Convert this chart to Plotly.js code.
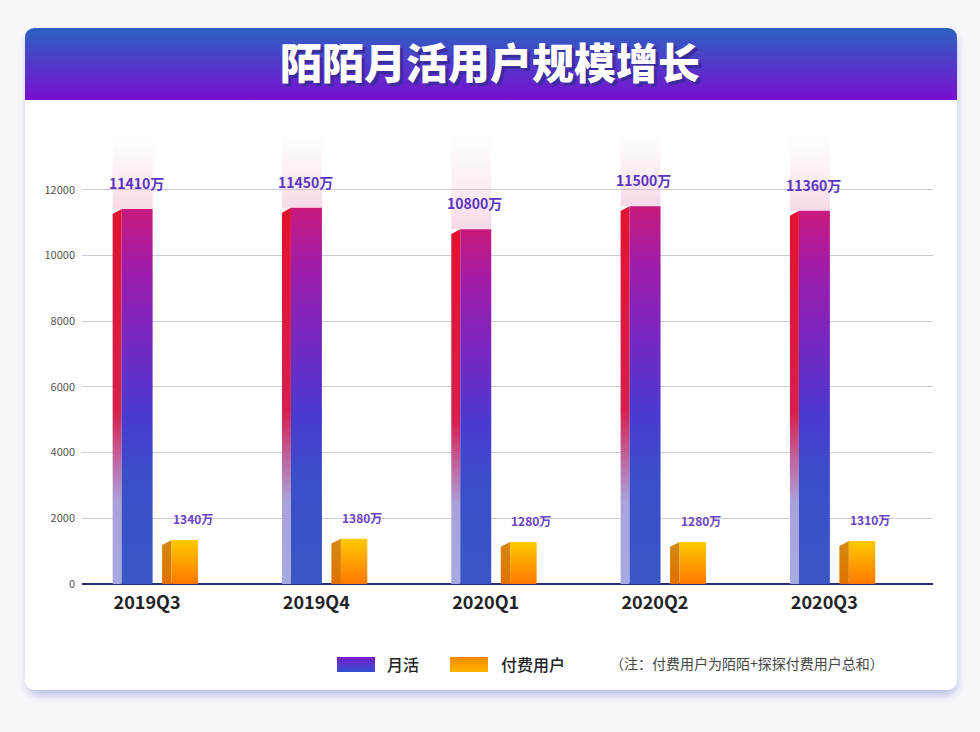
<!DOCTYPE html>
<html>
<head>
<meta charset="utf-8">
<script src="https://cdn.plot.ly/plotly-3.0.1.min.js"></script>
<style>html,body{margin:0;padding:0;background:#f7f8fb;}#chart{width:980px;height:732px;}</style>
</head>
<body>
<div id="chart"></div>
<script>
// ---- data ----
const categories = ['2019Q3', '2019Q4', '2020Q1', '2020Q2', '2020Q3'];
const mau = [11410, 11450, 10800, 11500, 11360];      // 月活 (万)
const paid = [1340, 1380, 1280, 1280, 1310];          // 付费用户 (万)
const yTicks = [0, 2000, 4000, 6000, 8000, 10000, 12000];
const seriesNames = ['月活', '付费用户'];
const unit = '万';
const chartTitle = '陌陌月活用户规模增长';
const noteText = '（注：付费用户为陌陌+探探付费用户总和）';

// ---- geometry / style ----
const W = 980, H = 732;
const M = {l: 82, r: 47, t: 124, b: 148};
const PW = W - M.l - M.r, PH = H - M.t - M.b;
const px2x = px => (px - M.l) / PW;
const py2y = py => (H - M.b - py) / PH;
const FONT = '"Noto Sans CJK SC", "Noto Sans", sans-serif';
const yMax = 14000;
const slant = 150;
const bigL = [-0.203, -0.150], bigM = [-0.150, 0.033];
const smlL = [0.089, 0.145], smlM = [0.145, 0.301];

const gMainBig = [[0, '#3857c4'], [0.3, '#3b4dca'], [0.45, '#4a3ad0'], [0.65, '#7727c2'], [0.85, '#a11ca9'], [1, '#c8197c']];
const gSideBig = [[0, '#a7aae0'], [0.22, '#aaa2da'], [0.34, '#c0619a'], [0.46, '#d6204c'], [1, '#e2122f']];
const gMainSml = [[0, '#ff7800'], [0.5, '#ffa000'], [1, '#ffca00']];
const gSideSml = [[0, '#e07000'], [1, '#d28a12']];
const gGlow = [[0, 'rgba(232,140,185,0.34)'], [0.6, 'rgba(240,190,215,0.16)'], [1, 'rgba(255,240,248,0)']];

function poly(x0, x1, yb, yt, ytLeft, scale, start, stop) {
  return {
    type: 'scatter', mode: 'none', fill: 'toself',
    x: [x0, x1, x1, x0, x0], y: [yb, yb, yt, ytLeft, yb],
    fillgradient: {type: 'vertical', colorscale: scale, start: start, stop: stop},
    hoverinfo: 'skip', showlegend: false
  };
}

const traces = [];
categories.forEach((c, i) => {
  traces.push(poly(i + bigL[0], i + bigM[1], mau[i], 13950, 13950, gGlow, mau[i], 13950));
});
categories.forEach((c, i) => {
  traces.push(poly(i + bigL[0], i + bigL[1], 0, mau[i], mau[i] - slant, gSideBig, 0, mau[i]));
  traces.push(poly(i + bigM[0], i + bigM[1], 0, mau[i], mau[i], gMainBig, 0, mau[i]));
  traces.push(poly(i + smlL[0], i + smlL[1], 0, paid[i], paid[i] - slant, gSideSml, 0, paid[i]));
  traces.push(poly(i + smlM[0], i + smlM[1], 0, paid[i], paid[i], gMainSml, 0, paid[i]));
});

const annotations = [];
categories.forEach((c, i) => {
  annotations.push({x: i - 0.065, y: mau[i], xref: 'x', yref: 'y', yshift: 14, text: mau[i] + unit,
    showarrow: false, xanchor: 'center', yanchor: 'bottom',
    font: {family: FONT, size: 14, color: '#5a36c0', weight: 700}});
  annotations.push({x: i + 0.27, y: paid[i], xref: 'x', yref: 'y', yshift: 11, text: paid[i] + unit,
    showarrow: false, xanchor: 'center', yanchor: 'bottom',
    font: {family: FONT, size: 12, color: '#6a44c4', weight: 700}});
});
// legend labels
annotations.push({x: px2x(385), y: py2y(664), xref: 'paper', yref: 'paper', text: seriesNames[0], showarrow: false,
  xanchor: 'left', yanchor: 'middle', font: {family: FONT, size: 16, color: '#222222', weight: 500}});
annotations.push({x: px2x(499), y: py2y(664), xref: 'paper', yref: 'paper', text: seriesNames[1], showarrow: false,
  xanchor: 'left', yanchor: 'middle', font: {family: FONT, size: 16, color: '#222222', weight: 500}});
annotations.push({x: px2x(608), y: py2y(663), xref: 'paper', yref: 'paper', text: noteText, showarrow: false,
  xanchor: 'left', yanchor: 'middle', font: {family: FONT, size: 14, color: '#454545'}});

// background card (SVG)
const bgSvg = "<svg xmlns='http://www.w3.org/2000/svg' width='980' height='732' viewBox='0 0 980 732'>" +
  "<defs><linearGradient id='h' x1='0' y1='0' x2='0' y2='1'><stop offset='0' stop-color='#2b61c1'/><stop offset='1' stop-color='#7a10d1'/></linearGradient>" +
  "<filter id='s' x='-5%' y='-5%' width='110%' height='115%'><feGaussianBlur stdDeviation='5'/></filter>" +
  "<clipPath id='c'><rect x='25' y='28' width='932' height='662' rx='9'/></clipPath></defs>" +
  "<rect width='980' height='732' fill='#f7f8fb'/>" +
  "<rect x='27' y='33' width='930' height='662' rx='10' fill='#a3a9dc' opacity='0.75' filter='url(#s)'/>" +
  "<rect x='25' y='28' width='932' height='662' rx='9' fill='#ffffff'/>" +
  "<rect x='25' y='28' width='932' height='72' fill='url(#h)' clip-path='url(#c)'/></svg>";
function swatch(c0, c1) {
  return "<svg xmlns='http://www.w3.org/2000/svg' width='38' height='15' viewBox='0 0 38 15'>" +
    "<defs><linearGradient id='g' x1='0' y1='0' x2='0' y2='1'><stop offset='0' stop-color='" + c0 + "'/><stop offset='1' stop-color='" + c1 + "'/></linearGradient></defs>" +
    "<rect width='38' height='15' fill='url(#g)'/></svg>";
}
const uri = s => 'data:image/svg+xml;charset=utf-8,' + encodeURIComponent(s);

const images = [
  {source: uri(bgSvg), xref: 'paper', yref: 'paper', x: px2x(0), y: py2y(0), sizex: W / PW, sizey: H / PH,
   xanchor: 'left', yanchor: 'top', sizing: 'stretch', layer: 'below'},
  {source: uri(swatch('#7a1ccf', '#3050d0')), xref: 'paper', yref: 'paper', x: px2x(337), y: py2y(657), sizex: 38 / PW, sizey: 15 / PH,
   xanchor: 'left', yanchor: 'top', sizing: 'stretch', layer: 'above'},
  {source: uri(swatch('#ff8800', '#ffb400')), xref: 'paper', yref: 'paper', x: px2x(450), y: py2y(657), sizex: 38 / PW, sizey: 15 / PH,
   xanchor: 'left', yanchor: 'top', sizing: 'stretch', layer: 'above'}
];

const layout = {
  width: W, height: H,
  margin: M,
  paper_bgcolor: '#f7f8fb',
  plot_bgcolor: 'rgba(0,0,0,0)',
  showlegend: false,
  title: {text: chartTitle, x: 0.5, xanchor: 'center', y: 1 - 64 / H, yanchor: 'middle', yref: 'container',
    font: {family: FONT, size: 42, color: '#ffffff', weight: 900, shadow: '3px 3px 0px #3a2c9c'}},
  xaxis: {range: [-0.384, 4.642], tickvals: categories.map((c, i) => i), ticktext: categories,
    showgrid: false, zeroline: false, showline: false, ticks: '', ticklabelstandoff: 6, fixedrange: true,
    tickfont: {family: FONT, size: 18, color: '#222222', weight: 700}},
  yaxis: {range: [0, yMax], tickvals: yTicks, ticktext: yTicks.map(String), showgrid: true, gridcolor: '#cbcbd8', gridwidth: 1,
    zeroline: true, zerolinecolor: '#2a2c70', zerolinewidth: 2, showline: false, ticks: '', ticklabelstandoff: 6, fixedrange: true,
    tickfont: {family: FONT, size: 11, color: '#555555'}},
  annotations: annotations,
  images: images
};

Plotly.newPlot('chart', traces, layout, {displayModeBar: false, staticPlot: true});
</script>
</body>
</html>
